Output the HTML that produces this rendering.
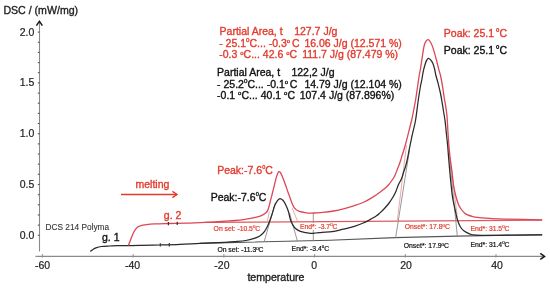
<!DOCTYPE html>
<html><head><meta charset="utf-8"><style>
html,body{margin:0;padding:0;background:#fff;width:550px;height:288px;overflow:hidden}
svg{display:block;font-family:"Liberation Sans",Arial,sans-serif}
text{stroke-width:0.35px}
</style></head><body>
<svg width="550" height="288" viewBox="0 0 550 288">
<g stroke="#8a8a8a" stroke-width="1.1" fill="none">
<line x1="39.5" y1="21.5" x2="39.5" y2="251.5"/>
<line x1="35.4" y1="256.4" x2="544" y2="256.4"/>
</g>
<g stroke="#1a1a1a" stroke-width="1.5" fill="none" stroke-linejoin="miter">
<polyline points="36.4,25.6 39.4,21.4 42.4,25.6"/>
<polyline points="540.3,253.4 544.6,256.4 540.3,259.4"/>
</g>
<g stroke="#555" stroke-width="1.1"><line x1="37.8" y1="235.3" x2="39.5" y2="235.3"/><line x1="37.8" y1="225.1" x2="39.5" y2="225.1"/><line x1="37.8" y1="215.0" x2="39.5" y2="215.0"/><line x1="37.8" y1="204.8" x2="39.5" y2="204.8"/><line x1="37.8" y1="194.7" x2="39.5" y2="194.7"/><line x1="37.8" y1="184.5" x2="39.5" y2="184.5"/><line x1="37.8" y1="174.3" x2="39.5" y2="174.3"/><line x1="37.8" y1="164.2" x2="39.5" y2="164.2"/><line x1="37.8" y1="154.0" x2="39.5" y2="154.0"/><line x1="37.8" y1="143.9" x2="39.5" y2="143.9"/><line x1="37.8" y1="133.7" x2="39.5" y2="133.7"/><line x1="37.8" y1="123.5" x2="39.5" y2="123.5"/><line x1="37.8" y1="113.4" x2="39.5" y2="113.4"/><line x1="37.8" y1="103.2" x2="39.5" y2="103.2"/><line x1="37.8" y1="93.1" x2="39.5" y2="93.1"/><line x1="37.8" y1="82.9" x2="39.5" y2="82.9"/><line x1="37.8" y1="72.7" x2="39.5" y2="72.7"/><line x1="37.8" y1="62.6" x2="39.5" y2="62.6"/><line x1="37.8" y1="52.4" x2="39.5" y2="52.4"/><line x1="37.8" y1="42.3" x2="39.5" y2="42.3"/><line x1="37.8" y1="32.1" x2="39.5" y2="32.1"/></g>
<g stroke="#888" stroke-width="0.9"><line x1="42.4" y1="254" x2="42.4" y2="257.5"/><line x1="133.2" y1="254" x2="133.2" y2="257.5"/><line x1="223.9" y1="254" x2="223.9" y2="257.5"/><line x1="314.6" y1="254" x2="314.6" y2="257.5"/><line x1="405.3" y1="254" x2="405.3" y2="257.5"/><line x1="496.0" y1="254" x2="496.0" y2="257.5"/></g>
<line x1="205" y1="222.4" x2="542" y2="220.1" stroke="#e25a5a" stroke-width="1.3"/>
<polyline points="200,243.4 330,240.2 395,237.6 457,236.1 542,234.6" fill="none" stroke="#555" stroke-width="1.1"/>
<g stroke="#8c8c8c" stroke-width="0.9" fill="none">
<line x1="275.4" y1="202.8" x2="264.1" y2="241.9"/>
<line x1="289.5" y1="213" x2="297.4" y2="241"/>
<line x1="313.3" y1="212.8" x2="313.3" y2="241.2"/>
<line x1="409.5" y1="150" x2="395.6" y2="237.8"/>
<line x1="448.3" y1="145" x2="457.3" y2="236"/>
</g>
<g stroke="#e8a0a0" stroke-width="0.9" fill="none">
<line x1="269.3" y1="211.5" x2="267.3" y2="221.9"/>
<line x1="292.2" y1="208.1" x2="297.6" y2="221.3"/>
<line x1="406.5" y1="145" x2="397.3" y2="220.6"/>
<line x1="450.4" y1="160" x2="457.7" y2="220.4"/>
</g>
<rect x="299.5" y="223" width="37.5" height="7" fill="#fff"/>
<rect x="291" y="244.5" width="37.5" height="7.5" fill="#fff"/>
<path d="M90.20,251.50 C90.67,251.17 92.05,250.10 93.00,249.50 C93.95,248.90 94.50,248.40 95.90,247.90 C97.30,247.40 99.05,246.82 101.40,246.50 C103.75,246.18 107.28,246.13 110.00,246.00 C112.72,245.87 112.70,245.80 117.70,245.70 C122.70,245.60 132.95,245.52 140.00,245.40 C147.05,245.28 153.33,245.17 160.00,245.00 C166.67,244.83 173.33,244.67 180.00,244.40 C186.67,244.13 192.50,243.75 200.00,243.40 C207.50,243.05 219.10,242.60 225.00,242.30 C230.90,242.00 231.93,241.90 235.40,241.60 C238.87,241.30 242.67,241.03 245.80,240.50 C248.93,239.97 251.93,239.12 254.20,238.40 C256.47,237.68 257.93,237.07 259.40,236.20 C260.87,235.33 261.98,234.23 263.00,233.20 C264.02,232.17 264.58,231.53 265.50,230.00 C266.42,228.47 267.45,226.50 268.50,224.00 C269.55,221.50 270.77,218.07 271.80,215.00 C272.83,211.93 273.78,207.97 274.70,205.60 C275.62,203.23 276.50,201.93 277.30,200.80 C278.10,199.67 278.78,199.05 279.50,198.80 C280.22,198.55 280.85,198.82 281.60,199.30 C282.35,199.78 283.18,200.50 284.00,201.70 C284.82,202.90 285.75,204.82 286.50,206.50 C287.25,208.18 287.85,209.63 288.50,211.80 C289.15,213.97 289.73,217.38 290.40,219.50 C291.07,221.62 291.70,223.05 292.50,224.50 C293.30,225.95 293.88,227.05 295.20,228.20 C296.52,229.35 298.14,230.57 300.40,231.40 C302.66,232.23 306.15,232.93 308.75,233.20 C311.35,233.47 313.79,233.15 316.00,233.00 C318.21,232.85 319.30,232.53 322.00,232.30 C324.70,232.07 328.83,232.08 332.20,231.60 C335.57,231.12 338.52,230.27 342.20,229.40 C345.88,228.53 350.67,227.52 354.30,226.40 C357.93,225.28 361.57,223.73 364.00,222.70 C366.43,221.67 366.87,221.32 368.90,220.20 C370.93,219.08 374.35,217.22 376.20,216.00 C378.05,214.78 378.67,214.10 380.00,212.90 C381.33,211.70 382.74,210.37 384.20,208.80 C385.66,207.23 387.30,205.42 388.75,203.50 C390.20,201.58 391.69,199.34 392.90,197.30 C394.11,195.26 395.10,193.30 396.00,191.25 C396.90,189.20 397.38,187.08 398.30,185.00 C399.22,182.92 400.63,180.83 401.50,178.75 C402.37,176.67 402.82,174.58 403.50,172.50 C404.18,170.42 404.98,168.33 405.60,166.25 C406.22,164.17 406.63,162.61 407.20,160.00 C407.77,157.39 408.37,153.80 409.00,150.60 C409.63,147.40 410.32,144.05 411.00,140.80 C411.68,137.55 412.33,134.57 413.10,131.10 C413.87,127.63 414.73,125.18 415.60,120.00 C416.47,114.82 417.48,105.67 418.30,100.00 C419.12,94.33 419.92,89.33 420.50,86.00 C421.08,82.67 421.35,82.38 421.80,80.00 C422.25,77.62 422.67,74.25 423.20,71.70 C423.73,69.15 424.43,66.58 425.00,64.70 C425.57,62.82 426.03,61.47 426.60,60.40 C427.17,59.33 427.77,58.43 428.40,58.30 C429.03,58.17 429.67,58.78 430.40,59.60 C431.13,60.42 432.10,61.63 432.80,63.20 C433.50,64.77 434.10,67.03 434.60,69.00 C435.10,70.97 435.22,72.62 435.80,75.00 C436.38,77.38 437.33,80.30 438.10,83.30 C438.87,86.30 439.72,89.75 440.40,93.00 C441.08,96.25 441.72,99.97 442.20,102.80 C442.68,105.63 442.83,107.07 443.30,110.00 C443.77,112.93 444.50,116.63 445.00,120.40 C445.50,124.17 445.87,128.50 446.30,132.60 C446.73,136.70 447.18,140.43 447.60,145.00 C448.02,149.57 448.30,154.17 448.80,160.00 C449.30,165.83 449.98,173.83 450.60,180.00 C451.22,186.17 451.88,192.67 452.50,197.00 C453.12,201.33 453.78,203.50 454.30,206.00 C454.82,208.50 455.07,209.67 455.60,212.00 C456.13,214.33 456.73,217.58 457.50,220.00 C458.27,222.42 459.15,224.70 460.20,226.50 C461.25,228.30 462.25,229.58 463.80,230.80 C465.35,232.02 467.47,233.08 469.50,233.80 C471.53,234.52 470.92,234.85 476.00,235.10 C481.08,235.35 488.95,235.35 500.00,235.30 C511.05,235.25 535.25,234.88 542.30,234.80" fill="none" stroke="#2a2a2a" stroke-width="1.25" stroke-linejoin="round"/>
<path d="M128.40,245.50 C128.80,244.45 129.85,241.53 130.80,239.20 C131.75,236.87 133.00,233.50 134.10,231.50 C135.20,229.50 136.25,228.18 137.40,227.20 C138.55,226.22 139.73,226.00 141.00,225.60 C142.27,225.20 142.75,225.08 145.00,224.80 C147.25,224.52 150.50,224.12 154.50,223.90 C158.50,223.68 163.92,223.62 169.00,223.50 C174.08,223.38 179.83,223.35 185.00,223.20 C190.17,223.05 195.00,222.80 200.00,222.60 C205.00,222.40 210.83,222.23 215.00,222.00 C219.17,221.77 221.67,221.45 225.00,221.20 C228.33,220.95 231.63,220.82 235.00,220.50 C238.37,220.18 242.63,219.65 245.20,219.30 C247.77,218.95 248.67,218.72 250.40,218.40 C252.13,218.08 253.87,217.83 255.60,217.40 C257.33,216.97 259.23,216.43 260.80,215.80 C262.37,215.17 263.87,214.47 265.00,213.60 C266.13,212.73 266.90,211.90 267.60,210.60 C268.30,209.30 268.70,207.57 269.20,205.80 C269.70,204.03 270.10,201.97 270.60,200.00 C271.10,198.03 271.60,196.37 272.20,194.00 C272.80,191.63 273.53,188.53 274.20,185.80 C274.87,183.07 275.60,179.68 276.20,177.60 C276.80,175.52 277.33,174.28 277.80,173.30 C278.27,172.32 278.58,171.83 279.00,171.70 C279.42,171.57 279.83,171.92 280.30,172.50 C280.77,173.08 281.22,173.90 281.80,175.20 C282.38,176.50 283.12,178.50 283.80,180.30 C284.48,182.10 285.18,183.97 285.90,186.00 C286.62,188.03 287.38,190.45 288.10,192.50 C288.82,194.55 289.58,196.58 290.20,198.30 C290.82,200.02 291.10,201.22 291.80,202.80 C292.50,204.38 293.25,206.40 294.40,207.80 C295.55,209.20 296.70,210.37 298.70,211.20 C300.70,212.03 303.85,212.50 306.40,212.80 C308.95,213.10 311.28,213.07 314.00,213.00 C316.72,212.93 319.43,212.73 322.70,212.40 C325.97,212.07 329.98,211.63 333.60,211.00 C337.22,210.37 341.03,209.47 344.40,208.60 C347.77,207.73 350.68,206.82 353.80,205.80 C356.92,204.78 359.98,203.90 363.10,202.50 C366.22,201.10 369.68,199.12 372.50,197.40 C375.32,195.68 377.97,193.67 380.00,192.20 C382.03,190.73 383.30,189.80 384.70,188.60 C386.10,187.40 387.15,186.43 388.40,185.00 C389.65,183.57 391.13,181.55 392.20,180.00 C393.27,178.45 394.02,177.28 394.80,175.70 C395.58,174.12 396.21,172.23 396.90,170.50 C397.59,168.77 398.31,167.05 398.95,165.30 C399.59,163.55 400.21,161.72 400.75,160.00 C401.29,158.28 401.76,156.42 402.20,155.00 C402.64,153.58 402.75,153.63 403.40,151.50 C404.05,149.37 405.18,145.60 406.10,142.20 C407.02,138.80 407.97,134.80 408.90,131.10 C409.83,127.40 410.90,123.52 411.70,120.00 C412.50,116.48 413.05,113.33 413.70,110.00 C414.35,106.67 414.97,103.83 415.60,100.00 C416.23,96.17 416.88,91.17 417.50,87.00 C418.12,82.83 418.78,78.13 419.30,75.00 C419.82,71.87 420.08,71.37 420.60,68.20 C421.12,65.03 421.82,59.70 422.40,56.00 C422.98,52.30 423.50,48.47 424.10,46.00 C424.70,43.53 425.33,42.27 426.00,41.20 C426.67,40.13 427.37,39.47 428.10,39.60 C428.83,39.73 429.62,40.70 430.40,42.00 C431.18,43.30 431.82,44.48 432.80,47.40 C433.78,50.32 435.28,55.75 436.30,59.50 C437.32,63.25 438.22,67.32 438.90,69.90 C439.58,72.48 439.80,72.30 440.40,75.00 C441.00,77.70 441.92,82.63 442.50,86.10 C443.08,89.57 443.38,92.55 443.90,95.80 C444.42,99.05 445.10,102.40 445.60,105.60 C446.10,108.80 446.58,111.93 446.90,115.00 C447.22,118.07 447.27,120.20 447.50,124.00 C447.73,127.80 448.00,133.47 448.30,137.80 C448.60,142.13 448.95,146.30 449.30,150.00 C449.65,153.70 449.93,156.25 450.40,160.00 C450.87,163.75 451.58,168.33 452.10,172.50 C452.62,176.67 452.88,181.08 453.50,185.00 C454.12,188.92 454.97,192.75 455.80,196.00 C456.63,199.25 457.63,202.33 458.50,204.50 C459.37,206.67 460.00,207.58 461.00,209.00 C462.00,210.42 463.42,212.03 464.50,213.00 C465.58,213.97 466.42,214.30 467.50,214.80 C468.58,215.30 469.33,215.57 471.00,216.00 C472.67,216.43 474.33,217.00 477.50,217.40 C480.67,217.80 485.42,218.12 490.00,218.40 C494.58,218.68 496.28,218.87 505.00,219.10 C513.72,219.33 536.08,219.68 542.30,219.80" fill="none" stroke="#dc4656" stroke-width="1.3" stroke-linejoin="round"/>
<g stroke="#333" stroke-width="1.2"><line x1="168.4" y1="222" x2="168.4" y2="225.2"/><line x1="177.2" y1="221.8" x2="177.2" y2="225"/><line x1="160.3" y1="243.2" x2="160.3" y2="246.6"/><line x1="169.3" y1="243" x2="169.3" y2="246.4"/></g>
<g stroke="#e23b2e" stroke-width="1.4" fill="none"><line x1="121" y1="194.5" x2="176.5" y2="194.5"/><polyline points="172.4,191.4 177,194.5 172.4,197.6"/></g>
<text x="3.4" y="14.0" font-size="10.60" fill="#1e1e1e" stroke="#1e1e1e" text-anchor="start">DSC / (mW/mg)</text>
<text x="34.3" y="35.5" font-size="10.50" fill="#222" stroke="#222" text-anchor="end" style='stroke-width:0.2px'>2.0</text>
<text x="34.3" y="86.3" font-size="10.50" fill="#222" stroke="#222" text-anchor="end" style='stroke-width:0.2px'>1.5</text>
<text x="34.3" y="137.1" font-size="10.50" fill="#222" stroke="#222" text-anchor="end" style='stroke-width:0.2px'>1.0</text>
<text x="34.3" y="187.9" font-size="10.50" fill="#222" stroke="#222" text-anchor="end" style='stroke-width:0.2px'>0.5</text>
<text x="34.3" y="238.7" font-size="10.50" fill="#222" stroke="#222" text-anchor="end" style='stroke-width:0.2px'>0.0</text>
<text x="42.5" y="268.6" font-size="10.50" fill="#222" stroke="#222" text-anchor="middle" style='stroke-width:0.2px'>-60</text>
<text x="132.5" y="268.6" font-size="10.50" fill="#222" stroke="#222" text-anchor="middle" style='stroke-width:0.2px'>-40</text>
<text x="221.9" y="268.6" font-size="10.50" fill="#222" stroke="#222" text-anchor="middle" style='stroke-width:0.2px'>-20</text>
<text x="314.2" y="268.6" font-size="10.50" fill="#222" stroke="#222" text-anchor="middle" style='stroke-width:0.2px'>0</text>
<text x="406.1" y="268.6" font-size="10.50" fill="#222" stroke="#222" text-anchor="middle" style='stroke-width:0.2px'>20</text>
<text x="497.0" y="268.6" font-size="10.50" fill="#222" stroke="#222" text-anchor="middle" style='stroke-width:0.2px'>40</text>
<text x="247.4" y="281.0" font-size="10.60" fill="#1e1e1e" stroke="#1e1e1e" text-anchor="start">temperature</text>
<text x="45.5" y="229.5" font-size="8.30" fill="#333" stroke="#333" text-anchor="start" style='stroke-width:0.1px'>DCS 214 Polyma</text>
<text x="102.0" y="240.7" font-size="10.50" fill="#111" stroke="#111" text-anchor="start">g. 1</text>
<text x="163.8" y="219.1" font-size="10.50" fill="#e23b2e" stroke="#e23b2e" text-anchor="start">g. 2</text>
<text x="135.5" y="187.8" font-size="10.50" fill="#e23b2e" stroke="#e23b2e" text-anchor="start">melting</text>
<text x="219.6" y="35.1" font-size="10.50" fill="#e23b2e" stroke="#e23b2e" text-anchor="start">Partial Area, t</text>
<text x="294.2" y="35.1" font-size="10.50" fill="#e23b2e" stroke="#e23b2e" text-anchor="start">127.7 J/g</text>
<text x="219.2" y="46.5" font-size="10.50" fill="#e23b2e" stroke="#e23b2e" text-anchor="start"><tspan>- 25.1</tspan><tspan font-size='6.2' dy='-4.30'>0</tspan><tspan dy='4.30'>C... -0.3</tspan><tspan font-size='6' dy='-3.80'>o</tspan><tspan font-size='6' dy='3.80'>&#160;</tspan><tspan>C</tspan></text>
<text x="304.4" y="46.5" font-size="10.50" fill="#e23b2e" stroke="#e23b2e" text-anchor="start">16.06 J/g (12.571 %)</text>
<text x="219.2" y="58.4" font-size="10.50" fill="#e23b2e" stroke="#e23b2e" text-anchor="start"><tspan>-0.3 </tspan><tspan font-size='6' dy='-3.90'>o</tspan><tspan dy='3.90'>C... 42.6 </tspan><tspan font-size='6' dy='-3.90'>o</tspan><tspan dy='3.90'>C</tspan></text>
<text x="302.2" y="58.4" font-size="10.50" fill="#e23b2e" stroke="#e23b2e" text-anchor="start">111.7 J/g (87.479 %)</text>
<text x="217.1" y="76.0" font-size="10.50" fill="#111" stroke="#111" text-anchor="start">Partial Area, t</text>
<text x="291.4" y="76.0" font-size="10.50" fill="#111" stroke="#111" text-anchor="start">122,2 J/g</text>
<text x="217.1" y="87.5" font-size="10.50" fill="#111" stroke="#111" text-anchor="start"><tspan>- 25.2</tspan><tspan font-size='6.2' dy='-4.30'>0</tspan><tspan dy='4.30'>C... -0.1</tspan><tspan font-size='6' dy='-3.80'>o</tspan><tspan font-size='6' dy='3.80'>&#160;</tspan><tspan>C</tspan></text>
<text x="304.4" y="87.5" font-size="10.50" fill="#111" stroke="#111" text-anchor="start">14.79 J/g (12.104 %)</text>
<text x="217.1" y="99.3" font-size="10.50" fill="#111" stroke="#111" text-anchor="start"><tspan>-0.1 </tspan><tspan font-size='6' dy='-3.90'>o</tspan><tspan dy='3.90'>C... 40.1 </tspan><tspan font-size='6' dy='-3.90'>o</tspan><tspan dy='3.90'>C</tspan></text>
<text x="299.7" y="99.3" font-size="10.50" fill="#111" stroke="#111" text-anchor="start">107.4 J/g (87.896%)</text>
<text x="443.8" y="36.9" font-size="10.50" fill="#e23b2e" stroke="#e23b2e" text-anchor="start">Poak: 25.1<tspan dx='1.4' dy='-0.7'>&#176;</tspan><tspan dy='0.7'>C</tspan></text>
<text x="443.8" y="53.7" font-size="10.50" fill="#111" stroke="#111" text-anchor="start">Poak: 25.1<tspan dx='1.4' dy='-0.7'>&#176;</tspan><tspan dy='0.7'>C</tspan></text>
<text x="217.2" y="174.1" font-size="10.50" fill="#e23b2e" stroke="#e23b2e" text-anchor="start">Peak:-7.6<tspan font-size='5.6' dy='-5.4'>0</tspan><tspan dy='5.4'>C</tspan></text>
<text x="210.7" y="201.4" font-size="10.50" fill="#111" stroke="#111" text-anchor="start">Peak:-7.6<tspan font-size='5.6' dy='-5.4'>0</tspan><tspan dy='5.4'>C</tspan></text>
<text x="213.6" y="230.9" font-size="6.80" fill="#e23b2e" stroke="#e23b2e" text-anchor="start" style='stroke-width:0.2px'>On set: -10.5<tspan font-size='4.3' dy='-2.5'>0</tspan><tspan dy='2.5'>C</tspan></text>
<text x="217.4" y="252.2" font-size="6.80" fill="#111" stroke="#111" text-anchor="start" style='stroke-width:0.2px'>On set: -11.3<tspan font-size='4.3' dy='-2.5'>0</tspan><tspan dy='2.5'>C</tspan></text>
<text x="299.9" y="228.9" font-size="6.80" fill="#e23b2e" stroke="#e23b2e" text-anchor="start" style='stroke-width:0.2px'>End*: -3.7<tspan font-size='4.3' dy='-2.5'>0</tspan><tspan dy='2.5'>C</tspan></text>
<text x="291.6" y="250.8" font-size="6.80" fill="#111" stroke="#111" text-anchor="start" style='stroke-width:0.2px'>End*: -3.4<tspan font-size='4.3' dy='-2.5'>0</tspan><tspan dy='2.5'>C</tspan></text>
<text x="404.7" y="229.1" font-size="6.80" fill="#e23b2e" stroke="#e23b2e" text-anchor="start" style='stroke-width:0.2px'>Onset*: 17.8<tspan font-size='4.3' dy='-2.5'>0</tspan><tspan dy='2.5'>C</tspan></text>
<text x="403.8" y="248.2" font-size="6.80" fill="#111" stroke="#111" text-anchor="start" style='stroke-width:0.2px'>Onset*: 17.9<tspan font-size='4.3' dy='-2.5'>0</tspan><tspan dy='2.5'>C</tspan></text>
<text x="470.4" y="230.6" font-size="6.80" fill="#e23b2e" stroke="#e23b2e" text-anchor="start" style='stroke-width:0.2px'>End*: 31.5<tspan font-size='4.3' dy='-2.5'>0</tspan><tspan dy='2.5'>C</tspan></text>
<text x="470.4" y="246.7" font-size="6.80" fill="#111" stroke="#111" text-anchor="start" style='stroke-width:0.2px'>End*: 31.4<tspan font-size='4.3' dy='-2.5'>0</tspan><tspan dy='2.5'>C</tspan></text>
</svg>
</body></html>
